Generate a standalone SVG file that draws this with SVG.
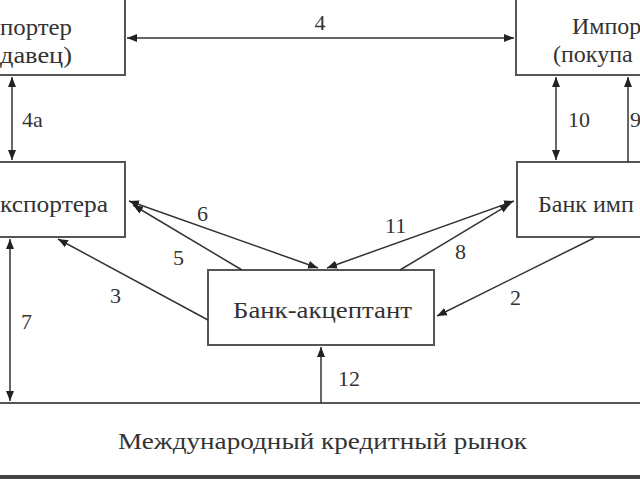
<svg xmlns="http://www.w3.org/2000/svg" width="640" height="480" viewBox="0 0 640 480">
<defs>
<marker id="ah" viewBox="0 0 10 10" refX="10" refY="5" markerWidth="10" markerHeight="10" markerUnits="userSpaceOnUse" orient="auto-start-reverse">
<path d="M0,1 L10,5 L0,9 Z" fill="#222"/>
</marker>
<style>
.box{fill:#fff;stroke:#555;stroke-width:2}
.t{font-family:"Liberation Serif","Times New Roman",serif;font-size:24px;fill:#333}
.n{font-family:"Liberation Serif","Times New Roman",serif;font-size:22px;fill:#333}
.c line{stroke:#333;stroke-width:1.5}
</style>
</defs>
<rect width="640" height="480" fill="#fff"/>
<g id="exporter">
<rect class="box" x="-10" y="-5" width="135" height="80"/>
<text class="t" x="72" y="35" text-anchor="end" textLength="72" lengthAdjust="spacingAndGlyphs">портер</text>
<text class="t" x="72" y="63" text-anchor="end" textLength="72" lengthAdjust="spacingAndGlyphs">давец)</text>
</g>
<g id="importer">
<rect class="box" x="516" y="-5" width="140" height="80"/>
<text class="t" x="572" y="34">Импор</text>
<text class="t" x="553" y="62">(покупа</text>
</g>
<g id="bank-exporter">
<rect class="box" x="-10" y="162" width="135" height="75"/>
<text class="t" x="108" y="212" text-anchor="end" textLength="108" lengthAdjust="spacingAndGlyphs">кспортера</text>
</g>
<g id="bank-importer">
<rect class="box" x="517" y="162" width="140" height="75"/>
<text class="t" x="538" y="212">Банк имп</text>
</g>
<g id="bank-acceptor">
<rect class="box" x="208" y="270" width="226" height="75"/>
<text class="t" x="233" y="318" textLength="179" lengthAdjust="spacingAndGlyphs">Банк-акцептант</text>
</g>
<g id="market">
<rect class="box" x="-10" y="403" width="660" height="74"/>
<line x1="0" y1="477" x2="640" y2="477" stroke="#444" stroke-width="4"/>
<text class="t" x="118" y="449" textLength="409" lengthAdjust="spacingAndGlyphs">Международный кредитный рынок</text>
</g>
<g class="c" id="connectors">
<line x1="127" y1="38" x2="514" y2="38" marker-start="url(#ah)" marker-end="url(#ah)"/>
<line x1="12" y1="77" x2="12" y2="160" marker-start="url(#ah)" marker-end="url(#ah)"/>
<line x1="556" y1="77" x2="556" y2="160" marker-start="url(#ah)" marker-end="url(#ah)"/>
<line x1="628" y1="162" x2="628" y2="77" marker-end="url(#ah)"/>
<line x1="10" y1="239" x2="10" y2="401" marker-start="url(#ah)" marker-end="url(#ah)"/>
<line x1="321" y1="403" x2="321" y2="347" marker-end="url(#ah)"/>
<line x1="208" y1="320" x2="58" y2="239" marker-end="url(#ah)"/>
<line x1="242" y1="270" x2="133" y2="205" marker-end="url(#ah)"/>
<line x1="129" y1="201" x2="318" y2="268" marker-start="url(#ah)" marker-end="url(#ah)"/>
<line x1="514" y1="201" x2="327" y2="268" marker-start="url(#ah)" marker-end="url(#ah)"/>
<line x1="400" y1="270" x2="510" y2="204" marker-end="url(#ah)"/>
<line x1="594" y1="238" x2="437" y2="316" marker-end="url(#ah)"/>
</g>
<g id="labels">
<text class="n" x="320" y="30" text-anchor="middle">4</text>
<text class="n" x="22" y="127">4а</text>
<text class="n" x="568" y="127">10</text>
<text class="n" x="630" y="127">9</text>
<text class="n" x="21" y="329">7</text>
<text class="n" x="338" y="386">12</text>
<text class="n" x="110" y="303">3</text>
<text class="n" x="173" y="265">5</text>
<text class="n" x="197" y="221">6</text>
<text class="n" x="385" y="233">11</text>
<text class="n" x="455" y="259">8</text>
<text class="n" x="510" y="305">2</text>
</g>
</svg>
